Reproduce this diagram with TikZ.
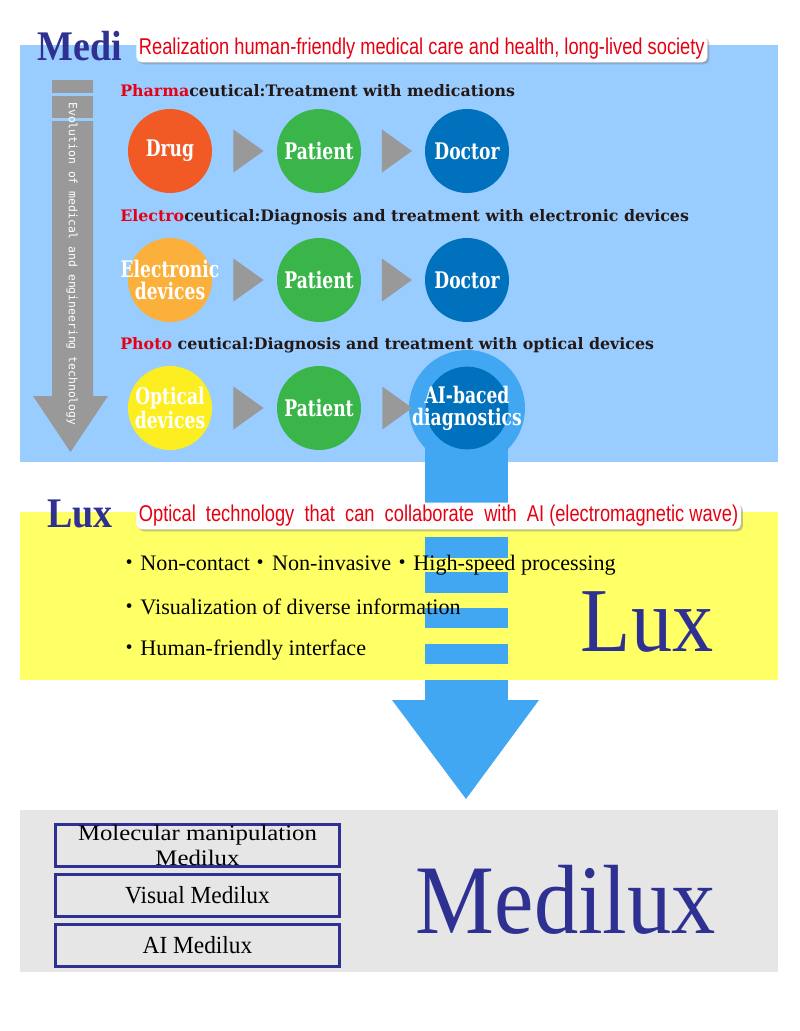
\documentclass[tikz,border=0pt]{standalone}
\usepackage{fontspec}
\usepackage{xcolor}
\usepackage{tikz}
\usetikzlibrary{positioning, shapes.geometric, shadows}

\setmainfont{Liberation Serif}
\newfontfamily\slabfont{DejaVu Serif}
\newfontfamily\circfont{DejaVu Serif}[FakeStretch=0.75]
\newfontfamily\titlefont{Liberation Sans}[FakeStretch=0.8]
\newfontfamily\evofont{DejaVu Sans Mono}
\newfontfamily\cjk{Noto Sans CJK JP}
\newfontfamily\namefont{Liberation Serif}[FakeStretch=0.9]
\newfontfamily\boxfont{Liberation Serif}[FakeStretch=0.95]
\newfontfamily\wideboxfont{Liberation Serif}[FakeStretch=1.12]

\definecolor{mediblue}{HTML}{99CCFF}
\definecolor{luxyellow}{HTML}{FFFF66}
\definecolor{boxgray}{HTML}{E6E6E6}
\definecolor{navy}{HTML}{2E3192}
\definecolor{titlered}{HTML}{E60012}
\definecolor{inkblack}{HTML}{231815}
\definecolor{arrowblue}{HTML}{42A7F3}
\definecolor{arrowgray}{HTML}{999999}
\definecolor{drugorange}{HTML}{F15A24}
\definecolor{patgreen}{HTML}{39B54A}
\definecolor{docblue}{HTML}{0071BC}
\definecolor{elecorange}{HTML}{FBB03B}
\definecolor{optyellow}{HTML}{FCEE21}

\begin{document}
\begin{tikzpicture}[x=0.02cm, y=-0.02cm]
						\tikzstyle{circ}=[circle, minimum size=1.68cm, inner sep=-8pt, text=white, align=center, font=\circfont\bfseries\fontsize{13}{12.5}\selectfont]
						\tikzstyle{tri}=[isosceles triangle, isosceles triangle stretches, fill=arrowgray, minimum width=0.86cm, minimum height=0.6cm, inner sep=0pt]
						\tikzstyle{heading}=[anchor=west, inner sep=0pt, text=inkblack, font=\slabfont\bfseries\fontsize{9}{10}\selectfont]
						\tikzstyle{redtitle}=[anchor=west, text=titlered, fill=white, rounded corners=3pt, inner sep=1.5pt, drop shadow={shadow xshift=1.2pt, shadow yshift=-1.2pt, opacity=0.45}, font=\titlefont\fontsize{13}{14}\selectfont]
						\tikzstyle{partname}=[text=navy, inner sep=0pt, font=\namefont\bfseries\fontsize{24}{24}\selectfont]
						\tikzstyle{point}=[anchor=west, inner sep=0pt, font=\fontsize{12.6}{14}\selectfont]
						\tikzstyle{medbox}=[draw=navy, line width=1.7pt, fill=boxgray, minimum width=5.7cm, minimum height=0.84cm, inner sep=0.5pt, align=center, font=\boxfont\fontsize{14}{11}\selectfont]
						\useasboundingbox (0,0) rectangle (800,1031);
						% backgrounds
						\fill[mediblue] (20,45) rectangle (778,462);
						\fill[boxgray] (20,810) rectangle (778,972);
						% gray arrow on the left
						\fill[arrowgray] (52,80) rectangle (93,93);
						\fill[arrowgray] (52,96) rectangle (93,118);
						\fill[arrowgray] (52,121) -- (93,121) -- (93,396) -- (108,396) -- (70.5,452) -- (33,396) -- (52,396) -- cycle;
						\node[rotate=-90, anchor=west, inner sep=0pt, text=white, font=\evofont\fontsize{6.5}{7}\selectfont] (evo) at (72,102) {Evolution of medical and engineering technology};
						% big blue arrow
						\node[circle, fill=arrowblue, minimum size=2.32cm, inner sep=0pt] (halo) at (467,408) {};
						\coordinate (tip) at (466,799);
						\fill[arrowblue] (425,408) rectangle (508,700);
						\fill[arrowblue] (392,700) -- (539,700) -- (tip) -- cycle;
						\fill[luxyellow] (20,512) rectangle (778,680);
						\foreach \ya/\yb in {537/558, 572/593, 608/628, 644/664}
							\fill[arrowblue] (425,\ya) rectangle (508,\yb);
						% Medi
						\node[partname] (medi) at (80,46) {Medi};
						\node[redtitle] (meditxt) at (136,49) {Realization human-friendly medical care and health, long-lived society};
						\node[heading] (h1) at (120,91) {\textcolor{titlered}{Pharma}ceutical:Treatment with medications};
						\node[heading] (h2) at (120,217) {\textcolor{titlered}{Electro}ceutical:Diagnosis and treatment with electronic devices};
						\node[heading] (h3) at (120,345) {\textcolor{titlered}{Photo} ceutical:Diagnosis and treatment with optical devices};
						\node[circ, fill=drugorange] (drug) at (170,151) {Drug};
						\node[circ, fill=patgreen] (pat1) at (319,151) {Patient};
						\node[circ, fill=docblue] (doc1) at (467,151) {Doctor};
						\node[circ, fill=elecorange] (elec) at (170,280) {Electronic\\devices};
						\node[circ, fill=patgreen] (pat2) at (319,280) {Patient};
						\node[circ, fill=docblue] (doc2) at (467,280) {Doctor};
						\node[circ, fill=optyellow] (opt) at (170,408) {Optical\\devices};
						\node[circ, fill=patgreen] (pat3) at (319,408) {Patient};
						\node[circ, fill=docblue, minimum size=1.64cm] (ai) at (halo) {AI-baced\\diagnostics};
						\path
							(drug) -- node[tri] (t1) {} (pat1)
							(pat1) -- node[tri] (t2) {} (doc1)
							(elec) -- node[tri] (t3) {} (pat2)
							(pat2) -- node[tri] (t4) {} (doc2)
							(opt) -- node[tri] (t5) {} (pat3)
							(pat3) -- node[tri] (t6) {} (ai);
						% Lux
						\node[partname] (lux) at (80,514) {Lux};
						\node[redtitle] (luxtxt) at (136,516) {Optical\ \ technology\ \ that\ \ can\ \ collaborate\ \ with\ \ AI\ (electromagnetic\ wave)};
						\node[point] (p1) at (118,565) {{\cjk ・}Non-contact{\cjk ・}Non-invasive{\cjk ・}High-speed processing};
						\node[point] (p2) at (118,607) {{\cjk ・}Visualization of diverse information};
						\node[point] (p3) at (118,650) {{\cjk ・}Human-friendly interface};
						\node[text=navy, inner sep=0pt, font=\namefont\fontsize{52}{52}\selectfont] (luxbig) at (647,622) {Lux};
						% Medilux
						\node[medbox, font=\wideboxfont\fontsize{12.6}{14}\selectfont] (b1) at (197.5,845.5) {Molecular manipulation\\Medilux};
						\node[medbox, below=0.1cm of b1] (b2) {Visual Medilux};
						\node[medbox, below=0.1cm of b2] (b3) {AI Medilux};
						\node[text=navy, inner sep=0pt, font=\namefont\fontsize{56}{56}\selectfont] (medilux) at (566,900) {Medilux};
					\end{tikzpicture}
\end{document}
